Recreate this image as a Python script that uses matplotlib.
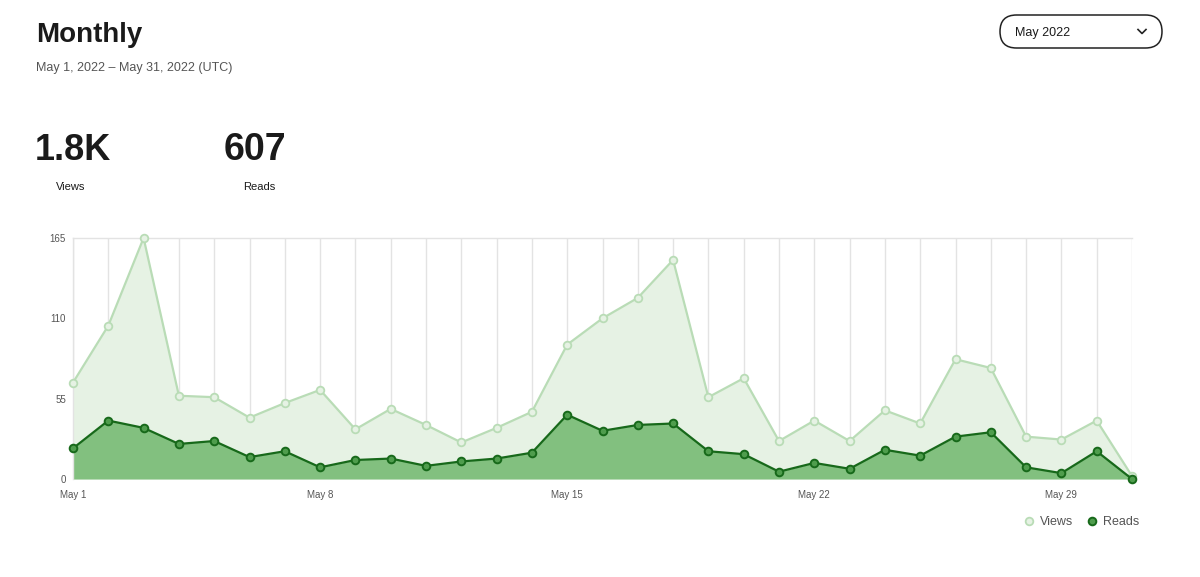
import numpy as np
import matplotlib
matplotlib.use("Agg")
import matplotlib.pyplot as plt
from matplotlib.patches import FancyBboxPatch
from matplotlib.lines import Line2D

plt.rcParams['font.family'] = ['Liberation Sans', 'DejaVu Sans']

# daily stats for May 2022
days = list(range(1, 32))
views = [66, 105, 165, 57, 56, 42, 52, 61, 34, 48, 37, 25, 35, 46, 92, 110,
         124, 150, 56, 69, 26, 40, 26, 47, 38, 82, 76, 29, 27, 40, 2]
reads = [21, 40, 35, 24, 26, 15, 19, 8, 13, 14, 9, 12, 14, 18, 44, 33,
         37, 38, 19, 17, 5, 11, 7, 20, 16, 29, 32, 8, 4, 19, 0]
xtick_days = [1, 8, 15, 22, 29]
xtick_labels = ['May 1', 'May 8', 'May 15', 'May 22', 'May 29']
ytick_vals = [0, 55, 110, 165]

views_line = '#b9dcb6'
views_fill = '#e6f2e4'
reads_line = '#17691a'
reads_fill = '#82c07f'
reads_face = '#4f9d4d'
grid_col = '#e3e3e3'
text_dark = '#1a1a1a'
text_grey = '#555555'

W, H = 1200, 577
fig = plt.figure(figsize=(W / 100, H / 100), dpi=100)

# overlay axes in pixel units for the header bits
ov = fig.add_axes([0, 0, 1, 1])
ov.set_xlim(0, W)
ov.set_ylim(H, 0)
ov.axis('off')

# axes placed on the pixel box of the plot area
left, right, top, bottom = 73, 1132, 238, 479
ax = fig.add_axes([left / W, 1 - bottom / H, (right - left) / W, (bottom - top) / H])

ax.fill_between(days, views, 0, color=views_fill, lw=0, zorder=1)
ax.plot(days, views, color=views_line, lw=1.6, marker='o', ms=5.5,
        mfc=views_fill, mec=views_line, mew=1.3, zorder=3, clip_on=False)
ax.fill_between(days, reads, 0, color=reads_fill, lw=0, zorder=2)
ax.plot(days, reads, color=reads_line, lw=1.6, marker='o', ms=5.5,
        mfc=reads_face, mec=reads_line, mew=1.4, zorder=4, clip_on=False)

ax.set_xlim(1, 31)
ax.set_ylim(0, 165)
ax.set_xticks(xtick_days)
ax.set_xticklabels(xtick_labels)
ax.set_xticks(days, minor=True)
ax.set_yticks(ytick_vals)
ax.tick_params(axis='both', which='both', length=0, labelsize=7, colors=text_grey)
ax.tick_params(axis='x', pad=8)
ax.tick_params(axis='y', pad=5)
ax.grid(axis='x', which='both', color=grid_col, lw=1, zorder=0)
ax.set_axisbelow(True)
for s in ['right', 'bottom']:
    ax.spines[s].set_visible(False)
for s in ['top', 'left']:
    ax.spines[s].set_color(grid_col)
    ax.spines[s].set_linewidth(1)

# legend below the plot on the right
handles = [Line2D([], [], ls='none', marker='o', ms=5.5, mfc=views_fill, mec=views_line, mew=1.3),
           Line2D([], [], ls='none', marker='o', ms=5.5, mfc=reads_face, mec=reads_line, mew=1.4)]
fig.legend(handles, ['Views', 'Reads'], loc='center right', bbox_to_anchor=(1151 / W, 1 - 522 / H),
           ncol=2, frameon=False, fontsize=9, handlelength=0.8, handletextpad=0.5,
           columnspacing=1.1, labelcolor=text_grey)

# header texts
ov.text(36, 35, 'Monthly', fontsize=20, fontweight='bold', color=text_dark, va='center')
ov.text(36, 68, 'May 1, 2022 \u2013 May 31, 2022 (UTC)', fontsize=9, color=text_grey, va='center')
ov.text(35, 150, '1.8K', fontsize=26, fontweight='bold', color=text_dark, va='center')
ov.text(224, 150, '607', fontsize=27, fontweight='bold', color=text_dark, va='center')
ov.text(71, 187, 'Views', fontsize=8, color=text_dark, va='center', ha='center')
ov.text(259, 187, 'Reads', fontsize=8, color=text_dark, va='center', ha='center')

# month selector box
box = FancyBboxPatch((1000, 15), 162, 33, boxstyle='round,pad=0,rounding_size=16.5',
                     fc='white', ec='#222222', lw=1.1)
ov.add_patch(box)
ov.text(1015, 33, 'May 2022', fontsize=9, color=text_dark, va='center')
ov.plot([1138, 1142, 1146], [29.5, 33.5, 29.5], color='#222222', lw=1.2)

fig.savefig('out.png', dpi=100, facecolor='white')
